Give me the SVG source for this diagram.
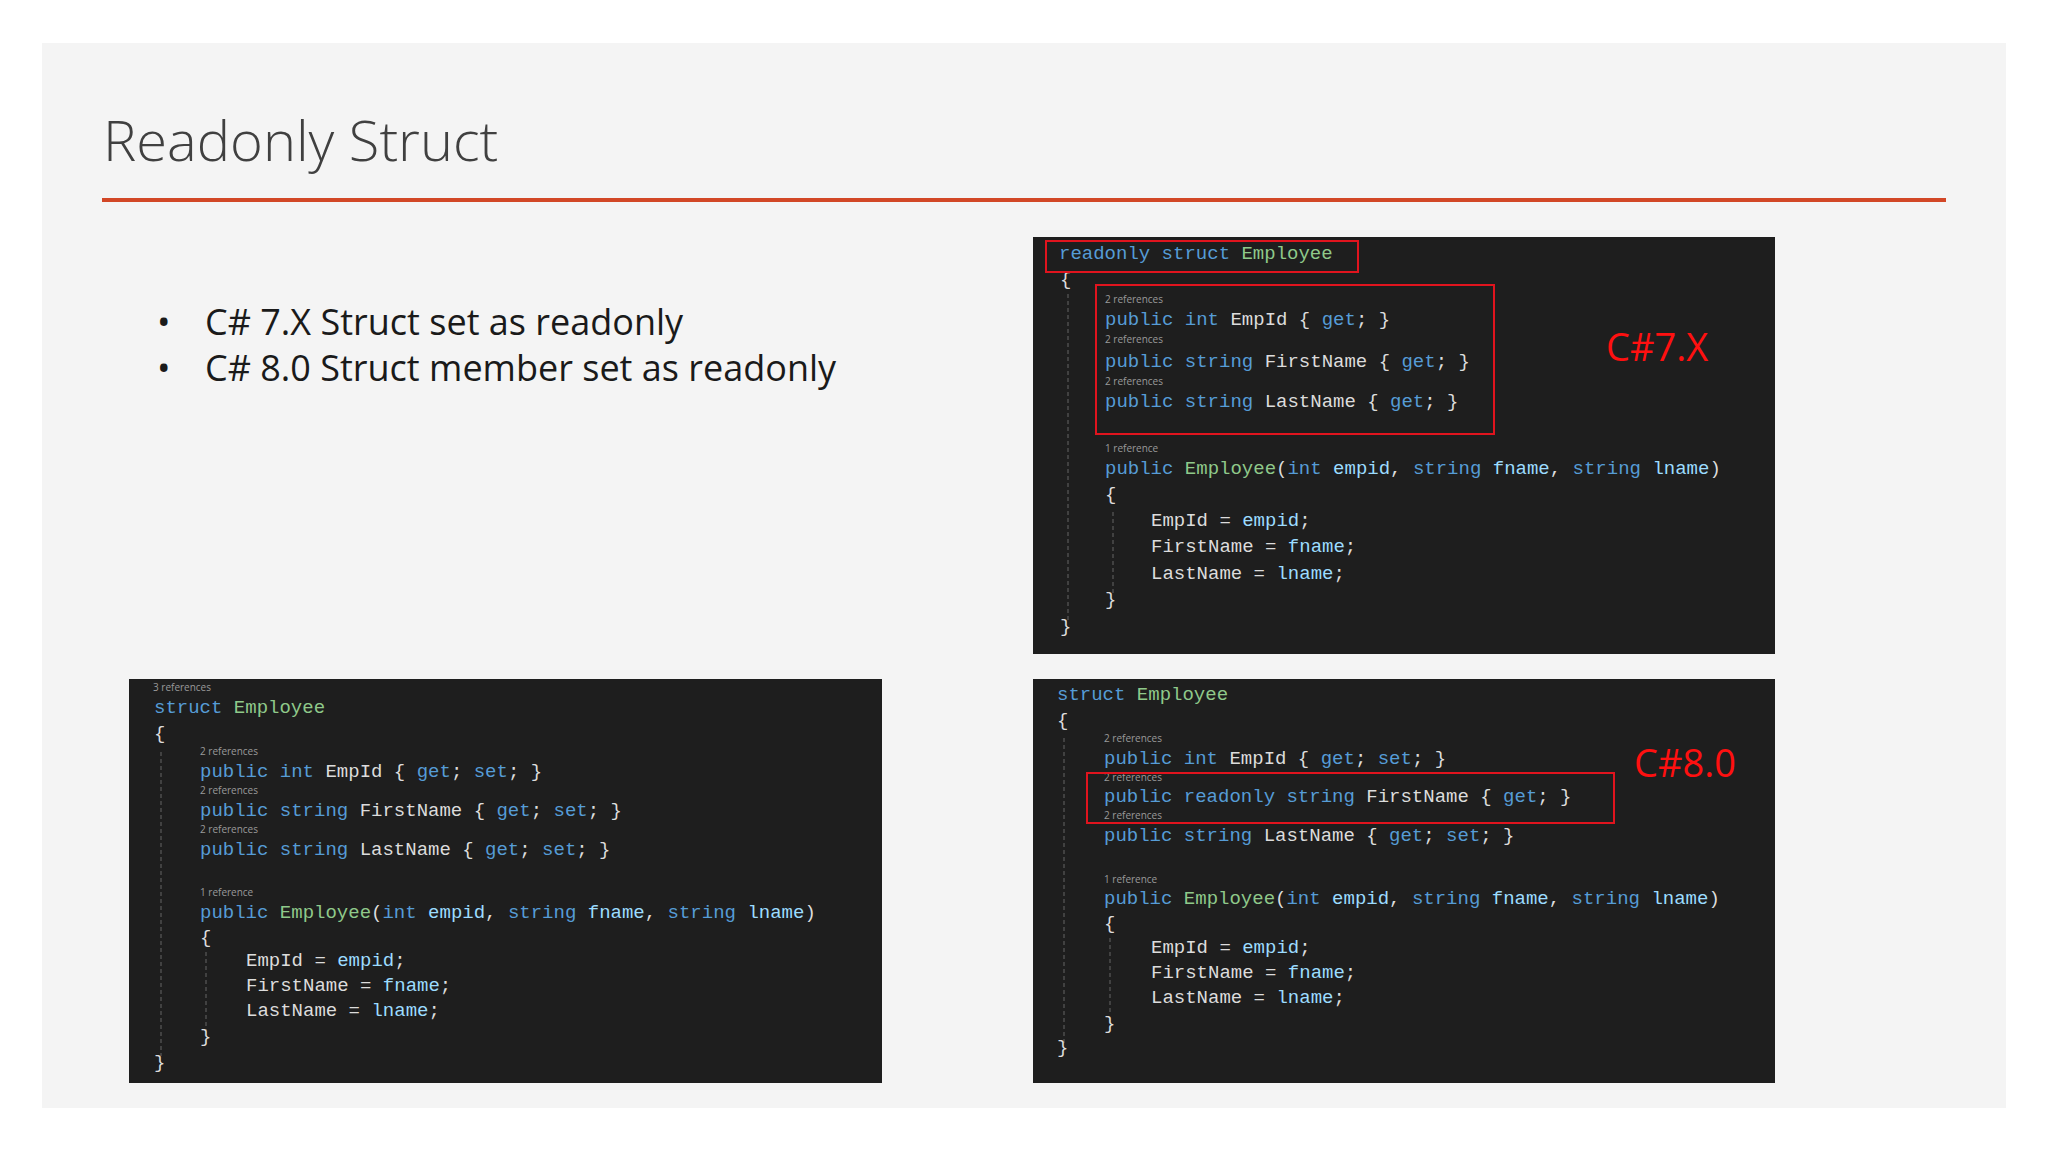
<svg xmlns="http://www.w3.org/2000/svg" width="2048" height="1152" viewBox="0 0 2048 1152">
<style>
.c{font-family:"Liberation Mono","DejaVu Sans Mono",monospace;font-size:19px;fill:#dcdcdc;white-space:pre}
.k{fill:#569cd6}.t{fill:#8fc98a}.p{fill:#9cdcfe}
.r{font-family:"Open Sans","Noto Sans",sans-serif;font-size:10px;fill:#9a9a9a}
.g{stroke:#555;stroke-width:1.3;stroke-dasharray:4 3}
.box{fill:none;stroke:#e0141e;stroke-width:2}
.lab{font-family:"Open Sans","Noto Sans",sans-serif;font-size:38px;fill:#ff1010}
.b{font-family:"Open Sans","Noto Sans",sans-serif;font-size:36px;fill:#1a1a1a}
</style>
<rect width="2048" height="1152" fill="#ffffff"/>
<rect x="42" y="43" width="1964" height="1065" fill="#f4f4f4"/>
<g id="title">
<text x="103" y="161" font-family="'Open Sans','Noto Sans',sans-serif" font-weight="300" font-size="56" fill="#404040">Readonly Struct</text>
<line x1="102" y1="200" x2="1946" y2="200" stroke="#d24726" stroke-width="4"/>
</g>
<g id="bullets">
<text x="157" y="335" class="b">•</text><text x="205" y="335" class="b">C# 7.X Struct set as readonly</text>
<text x="157" y="381" class="b">•</text><text x="205" y="381" class="b">C# 8.0 Struct member set as readonly</text>
</g>
<g id="panel-csharp7">
<rect x="1033" y="237" width="742" height="417" fill="#1e1e1e"/>
<line class="g" x1="1068" y1="294" x2="1068" y2="622"/>
<line class="g" x1="1113" y1="512" x2="1113" y2="594"/>
<text x="1059" y="259" class="c"><tspan class="k">readonly struct</tspan> <tspan class="t">Employee</tspan></text>
<text x="1060" y="285" class="c">{</text>
<text x="1105" y="303" class="r">2 references</text>
<text x="1105" y="325" class="c"><tspan class="k">public int</tspan> EmpId { <tspan class="k">get</tspan>; }</text>
<text x="1105" y="343" class="r">2 references</text>
<text x="1105" y="367" class="c"><tspan class="k">public string</tspan> FirstName { <tspan class="k">get</tspan>; }</text>
<text x="1105" y="385" class="r">2 references</text>
<text x="1105" y="407" class="c"><tspan class="k">public string</tspan> LastName { <tspan class="k">get</tspan>; }</text>
<text x="1105" y="452" class="r">1 reference</text>
<text x="1105" y="474" class="c"><tspan class="k">public</tspan> <tspan class="t">Employee</tspan>(<tspan class="k">int</tspan> <tspan class="p">empid</tspan>, <tspan class="k">string</tspan> <tspan class="p">fname</tspan>, <tspan class="k">string</tspan> <tspan class="p">lname</tspan>)</text>
<text x="1105" y="500" class="c">{</text>
<text x="1151" y="526" class="c">EmpId = <tspan class="p">empid</tspan>;</text>
<text x="1151" y="552" class="c">FirstName = <tspan class="p">fname</tspan>;</text>
<text x="1151" y="579" class="c">LastName = <tspan class="p">lname</tspan>;</text>
<text x="1105" y="605" class="c">}</text>
<text x="1060" y="632" class="c">}</text>
<rect class="box" x="1046" y="241" width="312" height="31"/>
<rect class="box" x="1096" y="285" width="398" height="149"/>
<text x="1606" y="361" class="lab">C#7.X</text>
</g>
<g id="panel-original">
<rect x="129" y="679" width="753" height="404" fill="#1e1e1e"/>
<line class="g" x1="161" y1="752" x2="161" y2="1056"/>
<line class="g" x1="206" y1="952" x2="206" y2="1030"/>
<text x="153" y="691" class="r">3 references</text>
<text x="154" y="713" class="c"><tspan class="k">struct</tspan> <tspan class="t">Employee</tspan></text>
<text x="154" y="739" class="c">{</text>
<text x="200" y="755" class="r">2 references</text>
<text x="200" y="777" class="c"><tspan class="k">public int</tspan> EmpId { <tspan class="k">get</tspan>; <tspan class="k">set</tspan>; }</text>
<text x="200" y="794" class="r">2 references</text>
<text x="200" y="816" class="c"><tspan class="k">public string</tspan> FirstName { <tspan class="k">get</tspan>; <tspan class="k">set</tspan>; }</text>
<text x="200" y="833" class="r">2 references</text>
<text x="200" y="855" class="c"><tspan class="k">public string</tspan> LastName { <tspan class="k">get</tspan>; <tspan class="k">set</tspan>; }</text>
<text x="200" y="896" class="r">1 reference</text>
<text x="200" y="918" class="c"><tspan class="k">public</tspan> <tspan class="t">Employee</tspan>(<tspan class="k">int</tspan> <tspan class="p">empid</tspan>, <tspan class="k">string</tspan> <tspan class="p">fname</tspan>, <tspan class="k">string</tspan> <tspan class="p">lname</tspan>)</text>
<text x="200" y="943" class="c">{</text>
<text x="246" y="966" class="c">EmpId = <tspan class="p">empid</tspan>;</text>
<text x="246" y="991" class="c">FirstName = <tspan class="p">fname</tspan>;</text>
<text x="246" y="1016" class="c">LastName = <tspan class="p">lname</tspan>;</text>
<text x="200" y="1042" class="c">}</text>
<text x="154" y="1068" class="c">}</text>
</g>
<g id="panel-csharp8">
<rect x="1033" y="679" width="742" height="404" fill="#1e1e1e"/>
<line class="g" x1="1064" y1="738" x2="1064" y2="1045"/>
<line class="g" x1="1110" y1="938" x2="1110" y2="1015"/>
<text x="1057" y="700" class="c"><tspan class="k">struct</tspan> <tspan class="t">Employee</tspan></text>
<text x="1057" y="726" class="c">{</text>
<text x="1104" y="742" class="r">2 references</text>
<text x="1104" y="764" class="c"><tspan class="k">public int</tspan> EmpId { <tspan class="k">get</tspan>; <tspan class="k">set</tspan>; }</text>
<text x="1104" y="781" class="r">2 references</text>
<text x="1104" y="802" class="c"><tspan class="k">public readonly string</tspan> FirstName { <tspan class="k">get</tspan>; }</text>
<text x="1104" y="819" class="r">2 references</text>
<text x="1104" y="841" class="c"><tspan class="k">public string</tspan> LastName { <tspan class="k">get</tspan>; <tspan class="k">set</tspan>; }</text>
<text x="1104" y="883" class="r">1 reference</text>
<text x="1104" y="904" class="c"><tspan class="k">public</tspan> <tspan class="t">Employee</tspan>(<tspan class="k">int</tspan> <tspan class="p">empid</tspan>, <tspan class="k">string</tspan> <tspan class="p">fname</tspan>, <tspan class="k">string</tspan> <tspan class="p">lname</tspan>)</text>
<text x="1104" y="929" class="c">{</text>
<text x="1151" y="953" class="c">EmpId = <tspan class="p">empid</tspan>;</text>
<text x="1151" y="978" class="c">FirstName = <tspan class="p">fname</tspan>;</text>
<text x="1151" y="1003" class="c">LastName = <tspan class="p">lname</tspan>;</text>
<text x="1104" y="1029" class="c">}</text>
<text x="1057" y="1053" class="c">}</text>
<rect class="box" x="1087" y="773" width="527" height="50"/>
<text x="1634" y="777" class="lab">C#8.0</text>
</g>
<g id="connectors"/>
</svg>
